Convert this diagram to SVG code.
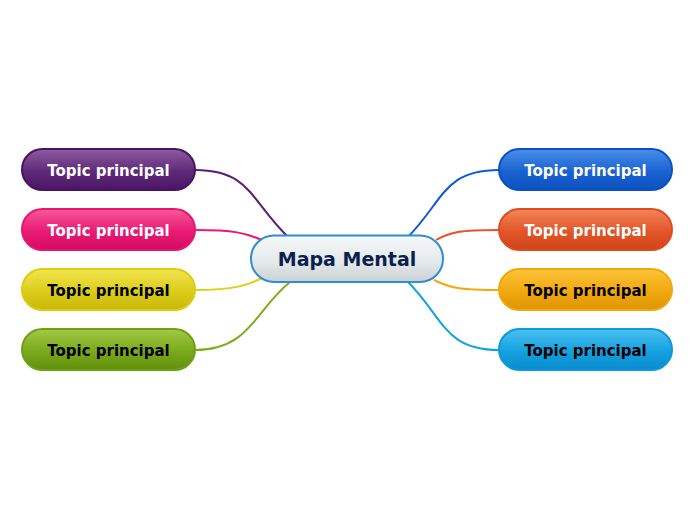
<svg xmlns="http://www.w3.org/2000/svg" width="696" height="520" viewBox="0 0 696 520">
<defs>
<linearGradient id="gc" x1="0" y1="0" x2="0" y2="1"><stop offset="0" stop-color="#f7f9fa"/><stop offset="0.6" stop-color="#e3e8ea"/><stop offset="1" stop-color="#c9d0d3"/></linearGradient>
<linearGradient id="g1" x1="0" y1="0" x2="0" y2="1"><stop offset="0" stop-color="#8e5aa0"/><stop offset="0.55" stop-color="#5e2a78"/><stop offset="1" stop-color="#4c1466"/></linearGradient>
<linearGradient id="g2" x1="0" y1="0" x2="0" y2="1"><stop offset="0" stop-color="#f8589a"/><stop offset="0.55" stop-color="#e81b74"/><stop offset="1" stop-color="#d60a62"/></linearGradient>
<linearGradient id="g3" x1="0" y1="0" x2="0" y2="1"><stop offset="0" stop-color="#f1e550"/><stop offset="0.55" stop-color="#dccd1a"/><stop offset="1" stop-color="#c9b70a"/></linearGradient>
<linearGradient id="g4" x1="0" y1="0" x2="0" y2="1"><stop offset="0" stop-color="#a2ca45"/><stop offset="0.55" stop-color="#7aa91c"/><stop offset="1" stop-color="#62900c"/></linearGradient>
<linearGradient id="g5" x1="0" y1="0" x2="0" y2="1"><stop offset="0" stop-color="#4a90e8"/><stop offset="0.55" stop-color="#1a62d0"/><stop offset="1" stop-color="#0c52c0"/></linearGradient>
<linearGradient id="g6" x1="0" y1="0" x2="0" y2="1"><stop offset="0" stop-color="#f4865a"/><stop offset="0.55" stop-color="#e2552a"/><stop offset="1" stop-color="#cf4418"/></linearGradient>
<linearGradient id="g7" x1="0" y1="0" x2="0" y2="1"><stop offset="0" stop-color="#fcc43a"/><stop offset="0.55" stop-color="#f2a80e"/><stop offset="1" stop-color="#de9404"/></linearGradient>
<linearGradient id="g8" x1="0" y1="0" x2="0" y2="1"><stop offset="0" stop-color="#4cc2f2"/><stop offset="0.55" stop-color="#14a0e0"/><stop offset="1" stop-color="#0a8cce"/></linearGradient>
</defs>
<style>
text{font-family:"DejaVu Sans",sans-serif;font-weight:bold;text-anchor:middle}
.t{font-size:15px}
.w{fill:#fff}.k{fill:#000}
.n{stroke-width:2}
#links path{fill:none;stroke-width:2}
</style>
<rect width="696" height="520" fill="#fff"/>
<g id="links">
<path d="M195,170 C250,170 250,200 288,237" stroke="#5a1e74"/>
<path d="M195,230 C235,230 245,233 262,240" stroke="#ec1a74"/>
<path d="M195,290 C235,290 248,285 262,278" stroke="#dfd010"/>
<path d="M195,350 C250,350 255,310 290,282" stroke="#7cae18"/>
<path d="M499,170 C444,170 444,200 408,237" stroke="#0d5bd0"/>
<path d="M499,230 C460,230 450,232 436,240" stroke="#e65226"/>
<path d="M499,290 C460,290 450,288 434,280" stroke="#f2aa10"/>
<path d="M499,350 C444,350 444,318 408,282" stroke="#12a2e2"/>
</g>
<g id="center"><rect x="251" y="235.5" width="192" height="46.5" rx="23" fill="url(#gc)" stroke="#2e8ed0" stroke-width="2"/><text x="347" y="266" font-size="19" fill="#0d1f4e">Mapa Mental</text></g>
<g id="n1"><rect class="n" x="22" y="149" width="173" height="41" rx="20.5" fill="url(#g1)" stroke="#4a1262"/><text class="t w" x="108.5" y="175.5">Topic principal</text></g>
<g id="n2"><rect class="n" x="22" y="209" width="173" height="41" rx="20.5" fill="url(#g2)" stroke="#e8146e"/><text class="t w" x="108.5" y="235.5">Topic principal</text></g>
<g id="n3"><rect class="n" x="22" y="269" width="173" height="41" rx="20.5" fill="url(#g3)" stroke="#dccc10"/><text class="t k" x="108.5" y="295.5">Topic principal</text></g>
<g id="n4"><rect class="n" x="22" y="329" width="173" height="41" rx="20.5" fill="url(#g4)" stroke="#6ea014"/><text class="t k" x="108.5" y="355.5">Topic principal</text></g>
<g id="n5"><rect class="n" x="499" y="149" width="173" height="41" rx="20.5" fill="url(#g5)" stroke="#0c50c8"/><text class="t w" x="585.5" y="175.5">Topic principal</text></g>
<g id="n6"><rect class="n" x="499" y="209" width="173" height="41" rx="20.5" fill="url(#g6)" stroke="#e04a1c"/><text class="t w" x="585.5" y="235.5">Topic principal</text></g>
<g id="n7"><rect class="n" x="499" y="269" width="173" height="41" rx="20.5" fill="url(#g7)" stroke="#f0a808"/><text class="t k" x="585.5" y="295.5">Topic principal</text></g>
<g id="n8"><rect class="n" x="499" y="329" width="173" height="41" rx="20.5" fill="url(#g8)" stroke="#0c98da"/><text class="t k" x="585.5" y="355.5">Topic principal</text></g>
</svg>
